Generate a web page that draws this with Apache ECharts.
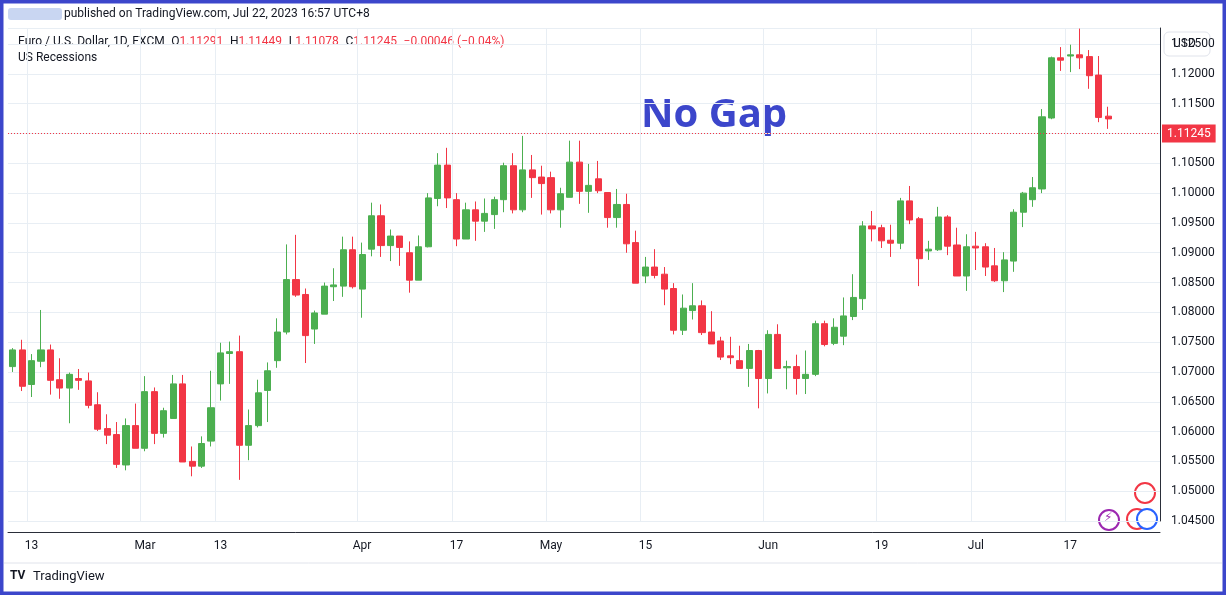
<!DOCTYPE html>
<html>
<head>
<meta charset="utf-8">
<script src="https://cdn.jsdelivr.net/npm/echarts@6/dist/echarts.min.js"></script>
<style>
  html, body { margin: 0; padding: 0; background: #fff; }
  #main { width: 1226px; height: 595px; }
</style>
</head>
<body>
<div id="main"></div>
<script>
// daily candles EURUSD, Feb 9 - Jul 21 2023 (weekdays)
const startDate = "2023-02-09";
const emptySlots = 5; // blank space right of last candle

const opens = [1.0709,1.0737,1.0679,1.0718,1.0737,1.0687,1.0673,1.0689,1.0685,1.0645,
  1.0605,1.0595,1.0544,1.0610,1.0572,1.0667,1.0597,1.0622,1.0680,1.0550,
  1.0542,1.0584,1.0680,1.0731,1.0734,1.0577,1.0610,1.0669,1.0719,1.0767,
  1.0855,1.0830,1.0772,1.0797,1.0843,1.0844,1.0905,1.0839,1.0906,1.0962,
  1.0912,1.0928,1.0900,1.0854,1.0910,1.0991,1.1047,1.0989,1.0923,1.0972,
  1.0953,1.0964,1.0989,1.1046,1.0972,1.1039,1.1027,1.1026,1.0972,1.0993,
  1.1052,1.1003,1.1024,1.1001,1.0959,1.0981,1.0917,1.0861,1.0876,1.0864,
  1.0840,1.0770,1.0803,1.0811,1.0767,1.0752,1.0727,1.0719,1.0706,1.0736,
  1.0689,1.0763,1.0707,1.0709,1.0689,1.0696,1.0781,1.0748,1.0760,1.0793,
  1.0823,1.0945,1.0942,1.0921,1.0916,1.0987,1.0957,1.0903,1.0905,1.0960,
  1.0913,1.0861,1.0911,1.0910,1.0878,1.0853,1.0886,1.0968,1.0989,1.1007,
  1.1126,1.1227,1.1230,1.1232,1.1229,1.1198,1.11291];
const closes = [1.0737,1.0676,1.0719,1.0737,1.0686,1.0673,1.0696,1.0686,1.0644,1.0604,
  1.0594,1.0545,1.0610,1.0572,1.0667,1.0597,1.0635,1.0680,1.0549,1.0542,
  1.0580,1.0640,1.0732,1.0734,1.0577,1.0610,1.0665,1.0702,1.0767,1.0855,
  1.0829,1.0761,1.0799,1.0844,1.0846,1.0905,1.0843,1.0897,1.0962,1.0912,
  1.0928,1.0909,1.0854,1.0910,1.0992,1.1047,1.0992,1.0923,1.0972,1.0953,
  1.0966,1.0989,1.1046,1.0972,1.1039,1.1026,1.1016,1.0972,1.0999,1.1052,
  1.1003,1.1013,1.1004,1.0959,1.0981,1.0915,1.0849,1.0876,1.0862,1.0839,
  1.0770,1.0807,1.0811,1.0766,1.0747,1.0725,1.0724,1.0706,1.0736,1.0689,
  1.0763,1.0706,1.0709,1.0689,1.0696,1.0781,1.0746,1.0775,1.0794,1.0825,
  1.0945,1.0940,1.0920,1.0916,1.0987,1.0955,1.0890,1.0906,1.0960,1.0911,
  1.0861,1.0910,1.0908,1.0876,1.0853,1.0888,1.0968,1.1000,1.1009,1.1128,
  1.1227,1.1223,1.1232,1.1227,1.1197,1.1127,1.11245];
const lows = [1.0700,1.0668,1.0658,1.0708,1.0662,1.0655,1.0614,1.0670,1.0639,1.0601,
  1.0579,1.0539,1.0535,1.0572,1.0567,1.0579,1.0590,1.0622,1.0549,1.0525,
  1.0539,1.0575,1.0652,1.0680,1.0519,1.0552,1.0607,1.0616,1.0707,1.0763,
  1.0826,1.0715,1.0747,1.0797,1.0819,1.0826,1.0840,1.0791,1.0894,1.0893,
  1.0886,1.0878,1.0833,1.0854,1.0909,1.0978,1.0975,1.0911,1.0923,1.0920,
  1.0935,1.0940,1.0968,1.0966,1.0968,1.0992,1.0964,1.0966,1.0942,1.0993,
  1.0982,1.0967,1.1000,1.0942,1.0942,1.0900,1.0849,1.0849,1.0857,1.0812,
  1.0763,1.0762,1.0788,1.0762,1.0747,1.0720,1.0713,1.0706,1.0675,1.0639,
  1.0664,1.0706,1.0671,1.0662,1.0663,1.0693,1.0743,1.0745,1.0745,1.0787,
  1.0804,1.0919,1.0908,1.0893,1.0906,1.0948,1.0844,1.0888,1.0903,1.0896,
  1.0861,1.0836,1.0871,1.0861,1.0851,1.0834,1.0868,1.0943,1.0977,1.1000,
  1.1124,1.1205,1.1203,1.1208,1.1175,1.1119,1.11078];
const highs = [1.0740,1.0754,1.0730,1.0804,1.0746,1.0723,1.0699,1.0705,1.0699,1.0666,
  1.0629,1.0616,1.0622,1.0647,1.0693,1.0674,1.0640,1.0695,1.0695,1.0575,
  1.0592,1.0702,1.0749,1.0751,1.0761,1.0637,1.0687,1.0716,1.0790,1.0914,
  1.0930,1.0840,1.0803,1.0850,1.0874,1.0927,1.0927,1.0917,1.0984,1.0981,
  1.0939,1.0927,1.0919,1.0929,1.1000,1.1067,1.1076,1.1000,1.0984,1.0986,
  1.0991,1.0994,1.1051,1.1067,1.1096,1.1064,1.1046,1.1036,1.1009,1.1088,
  1.1088,1.1049,1.1054,1.1001,1.1007,1.0999,1.0937,1.0893,1.0906,1.0876,
  1.0849,1.0830,1.0849,1.0820,1.0802,1.0759,1.0759,1.0744,1.0747,1.0737,
  1.0770,1.0780,1.0719,1.0729,1.0736,1.0786,1.0786,1.0790,1.0825,1.0864,
  1.0953,1.0970,1.0947,1.0947,1.0992,1.1012,1.0960,1.0920,1.0977,1.0963,
  1.0942,1.0931,1.0935,1.0916,1.0908,1.0901,1.0973,1.1002,1.1027,1.1141,
  1.1229,1.1245,1.1249,1.1276,1.1240,1.1230,1.11449];

// x-axis labels: date -> text
const tickLabels = {
  "2023-02-13": "13", "2023-03-01": "Mar", "2023-03-13": "13", "2023-04-03": "Apr",
  "2023-04-17": "17", "2023-05-01": "May", "2023-05-15": "15", "2023-06-01": "Jun",
  "2023-06-19": "19", "2023-07-03": "Jul", "2023-07-17": "17"
};
const lastPrice = 1.11245;

// build weekday categories
const dates = [];
let d = new Date(startDate + "T00:00:00Z");
while (dates.length < opens.length + emptySlots) {
  const wd = d.getUTCDay();
  if (wd !== 0 && wd !== 6) dates.push(d.toISOString().slice(0, 10));
  d.setUTCDate(d.getUTCDate() + 1);
}
const candles = opens.map((o, i) => [o, closes[i], lows[i], highs[i]]);

const UP = "#4caf50", DOWN = "#f23645", GRID = "#e8eef4", TXT = "#131722";
const isTick = (i) => tickLabels[dates[i]] !== undefined;

const chart = echarts.init(document.getElementById("main"));
chart.setOption({
  animation: false,
  backgroundColor: "#fff",
  textStyle: { fontFamily: "Roboto, 'Noto Sans', sans-serif" },
  grid: { left: 8, right: 66, top: 28, bottom: 74 },
  xAxis: {
    type: "category",
    data: dates,
    offset: 11,
    axisLine: { show: true, lineStyle: { color: "#2a2e39", width: 1 } },
    axisTick: { show: false },
    axisLabel: {
      interval: (i) => isTick(i),
      formatter: (v) => tickLabels[v] || "",
      color: TXT, fontSize: 12, margin: 8
    },
    splitLine: { show: true, interval: (i) => isTick(i), lineStyle: { color: GRID } }
  },
  yAxis: {
    type: "value",
    position: "right",
    min: 1.045, max: 1.1277, interval: 0.005,
    axisLine: { show: true, lineStyle: { color: "#2a2e39" } },
    axisTick: { show: false },
    axisLabel: {
      color: TXT, fontSize: 12, margin: 11,
      formatter: (v) => (Math.abs(v / 0.005 - Math.round(v / 0.005)) < 1e-6 ? v.toFixed(5) : "")
    },
    splitLine: { lineStyle: { color: GRID } }
  },
  series: [{
    type: "candlestick",
    data: candles,
    barWidth: "70%",
    itemStyle: { color: UP, color0: DOWN, borderColor: UP, borderColor0: DOWN, borderWidth: 1 },
    markLine: {
      symbol: "none", silent: true, animation: false,
      data: [
        { yAxis: lastPrice, lineStyle: { color: DOWN, type: [1, 2], width: 1 },
          label: { position: "end", distance: 2, formatter: lastPrice.toFixed(5), color: "#fff",
                   backgroundColor: DOWN, padding: [3, 5], fontSize: 12 } },
        { yAxis: lastPrice, lineStyle: { opacity: 0 },
          label: { position: "insideEnd", distance: -7, formatter: "EURUSD", color: "#fff",
                   backgroundColor: DOWN, padding: [2, 4], fontSize: 11, fontWeight: "bold" } }
      ]
    }
  }],
  graphic: [
    { type: "rect", shape: { x: 0, y: 0, width: 1226, height: 595 },
      style: { fill: "none", stroke: "#3c46cb", lineWidth: 7 }, z: 100 },
    { type: "rect", shape: { x: 8, y: 8, width: 54, height: 12, r: 3 }, style: { fill: "#c9d6f2" } },
    { type: "text", x: 64, y: 8, style: { text: "published on TradingView.com, Jul 22, 2023 16:57 UTC+8", fill: TXT, font: "12px Roboto" } },
    { type: "text", x: 18, y: 36,
      style: { text: "{n|Euro / U.S. Dollar, 1D, FXCM}  {l|O}{v|1.11291}  {l|H}{v|1.11449}  {l|L}{v|1.11078}  {l|C}{v|1.11245}  {v|−0.00046 (−0.04%)}",
        rich: { n: { fill: TXT, font: "12px Roboto" }, l: { fill: TXT, font: "12px Roboto" }, v: { fill: DOWN, font: "12px Roboto" } } } },
    { type: "text", x: 18, y: 52, style: { text: "US Recessions", fill: TXT, font: "12px Roboto" } },
    { type: "text", x: 641, y: 96, style: { text: "No Gap", fill: "#3c46cb", font: "bold 40px 'Open Sans', sans-serif" } },
    { type: "rect", shape: { x: 1164, y: 32, width: 46, height: 24, r: 5 }, style: { fill: "#fff", stroke: "#e0e3eb" } },
    { type: "text", x: 1173, y: 38, style: { text: "USD", fill: TXT, font: "12px Roboto" } },
    { type: "line", shape: { x1: 4, y1: 563, x2: 1222, y2: 563 }, style: { stroke: "#e0e3eb" } },
    { type: "text", x: 10, y: 570, style: { text: "TV", fill: TXT, font: "bold 12px Roboto" } },
    { type: "text", x: 33, y: 570, style: { text: "TradingView", fill: TXT, font: "13px Roboto" } },
    { type: "circle", shape: { cx: 1145, cy: 493, r: 10 }, style: { fill: "#fff", stroke: "#f23645", lineWidth: 2 } },
    { type: "circle", shape: { cx: 1109, cy: 520, r: 10 }, style: { fill: "#fff", stroke: "#9c27b0", lineWidth: 2 } },
    { type: "text", x: 1104, y: 512, style: { text: "⚡", fill: "#9c27b0", font: "12px 'DejaVu Sans'" } },
    { type: "circle", shape: { cx: 1137, cy: 519, r: 10 }, style: { fill: "#fff", stroke: "#f23645", lineWidth: 2 } },
    { type: "circle", shape: { cx: 1147, cy: 519, r: 10 }, style: { fill: "#fff", stroke: "#2962ff", lineWidth: 2 } }
  ]
});
</script>
</body>
</html>
